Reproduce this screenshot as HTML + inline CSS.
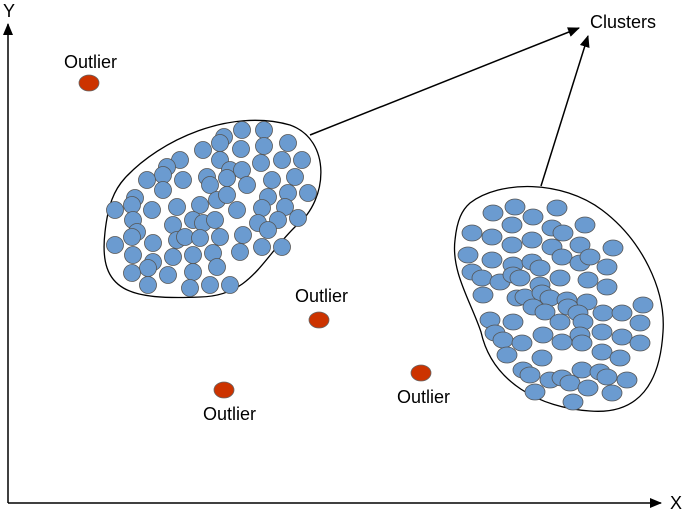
<!DOCTYPE html>
<html><head><meta charset="utf-8"><style>html,body{margin:0;padding:0;background:#fff;width:685px;height:511px;overflow:hidden}svg{display:block}text{font-family:"Liberation Sans",sans-serif;font-size:18px;fill:#000}</style></head><body>
<svg width="685" height="511" viewBox="0 0 685 511" xmlns="http://www.w3.org/2000/svg">
<defs><marker id="a" markerWidth="12" markerHeight="10" refX="11" refY="5" orient="auto" markerUnits="userSpaceOnUse"><path d="M0,0 L12,5 L0,10 Z" fill="#000"/></marker></defs>
<!-- axes -->
<line x1="8" y1="503" x2="8" y2="24" stroke="#000" stroke-width="1.5" marker-end="url(#a)"/>
<line x1="8" y1="503" x2="661" y2="503" stroke="#000" stroke-width="1.5" marker-end="url(#a)"/>
<text x="3" y="17">Y</text>
<text x="670" y="509">X</text>
<!-- blobs -->
<path d="M125,178 C160,140 230,108 290,125 C332,140 328,200 297,225 C262,258 252,296 200,297 C130,300 98,292 105,232 C108,205 114,190 125,178 Z" fill="none" stroke="#000" stroke-width="1.3"/>
<path d="M470,203 C500,180 562,180 602,210 C642,240 666,290 663,332 C660,382 640,415 590,411 C540,408 492,382 481,332 C471,302 451,272 455,240 C457,220 462,210 470,203 Z" fill="none" stroke="#000" stroke-width="1.3"/>
<!-- arrows -->
<line x1="310" y1="135" x2="579" y2="28" stroke="#000" stroke-width="1.5" marker-end="url(#a)"/>
<line x1="541" y1="186" x2="588" y2="36" stroke="#000" stroke-width="1.5" marker-end="url(#a)"/>
<text x="590" y="28">Clusters</text>
<!-- left cluster -->
<g fill="#6b9bd0" stroke="#555" stroke-width="0.8">
<circle cx="242" cy="130" r="8.5"/><circle cx="264" cy="130" r="8.5"/><circle cx="224" cy="137" r="8.5"/><circle cx="220" cy="143" r="8.5"/><circle cx="203" cy="150" r="8.5"/><circle cx="241" cy="149" r="8.5"/><circle cx="264" cy="146" r="8.5"/><circle cx="288" cy="143" r="8.5"/><circle cx="180" cy="160" r="8.5"/><circle cx="220" cy="160" r="8.5"/><circle cx="261" cy="163" r="8.5"/><circle cx="282" cy="160" r="8.5"/><circle cx="302" cy="160" r="8.5"/><circle cx="167" cy="167" r="8.5"/><circle cx="163" cy="175" r="8.5"/><circle cx="147" cy="180" r="8.5"/><circle cx="183" cy="180" r="8.5"/><circle cx="207" cy="177" r="8.5"/><circle cx="230" cy="170" r="8.5"/><circle cx="242" cy="170" r="8.5"/><circle cx="272" cy="180" r="8.5"/><circle cx="295" cy="177" r="8.5"/><circle cx="210" cy="185" r="8.5"/><circle cx="227" cy="178" r="8.5"/><circle cx="247" cy="185" r="8.5"/><circle cx="163" cy="190" r="8.5"/><circle cx="135" cy="198" r="8.5"/><circle cx="132" cy="205" r="8.5"/><circle cx="115" cy="210" r="8.5"/><circle cx="152" cy="210" r="8.5"/><circle cx="177" cy="207" r="8.5"/><circle cx="200" cy="205" r="8.5"/><circle cx="217" cy="200" r="8.5"/><circle cx="227" cy="195" r="8.5"/><circle cx="237" cy="210" r="8.5"/><circle cx="268" cy="197" r="8.5"/><circle cx="288" cy="193" r="8.5"/><circle cx="308" cy="193" r="8.5"/><circle cx="262" cy="208" r="8.5"/><circle cx="285" cy="207" r="8.5"/><circle cx="133" cy="220" r="8.5"/><circle cx="173" cy="225" r="8.5"/><circle cx="193" cy="220" r="8.5"/><circle cx="203" cy="223" r="8.5"/><circle cx="215" cy="220" r="8.5"/><circle cx="258" cy="223" r="8.5"/><circle cx="278" cy="220" r="8.5"/><circle cx="298" cy="218" r="8.5"/><circle cx="137" cy="232" r="8.5"/><circle cx="132" cy="237" r="8.5"/><circle cx="177" cy="240" r="8.5"/><circle cx="185" cy="237" r="8.5"/><circle cx="200" cy="238" r="8.5"/><circle cx="220" cy="237" r="8.5"/><circle cx="243" cy="235" r="8.5"/><circle cx="268" cy="230" r="8.5"/><circle cx="115" cy="245" r="8.5"/><circle cx="153" cy="243" r="8.5"/><circle cx="133" cy="255" r="8.5"/><circle cx="173" cy="257" r="8.5"/><circle cx="193" cy="255" r="8.5"/><circle cx="213" cy="253" r="8.5"/><circle cx="240" cy="252" r="8.5"/><circle cx="262" cy="247" r="8.5"/><circle cx="282" cy="247" r="8.5"/><circle cx="153" cy="262" r="8.5"/><circle cx="148" cy="268" r="8.5"/><circle cx="168" cy="275" r="8.5"/><circle cx="193" cy="272" r="8.5"/><circle cx="217" cy="267" r="8.5"/><circle cx="132" cy="273" r="8.5"/><circle cx="148" cy="285" r="8.5"/><circle cx="190" cy="288" r="8.5"/><circle cx="210" cy="285" r="8.5"/><circle cx="230" cy="285" r="8.5"/>
</g>
<!-- right cluster -->
<g fill="#6b9bd0" stroke="#555" stroke-width="0.8">
<ellipse cx="515" cy="207" rx="10" ry="8"/><ellipse cx="557" cy="208" rx="10" ry="8"/><ellipse cx="493" cy="213" rx="10" ry="8"/><ellipse cx="533" cy="217" rx="10" ry="8"/><ellipse cx="512" cy="225" rx="10" ry="8"/><ellipse cx="552" cy="228" rx="10" ry="8"/><ellipse cx="563" cy="233" rx="10" ry="8"/><ellipse cx="585" cy="225" rx="10" ry="8"/><ellipse cx="472" cy="233" rx="10" ry="8"/><ellipse cx="492" cy="237" rx="10" ry="8"/><ellipse cx="512" cy="245" rx="10" ry="8"/><ellipse cx="532" cy="240" rx="10" ry="8"/><ellipse cx="552" cy="247" rx="10" ry="8"/><ellipse cx="580" cy="245" rx="10" ry="8"/><ellipse cx="613" cy="248" rx="10" ry="8"/><ellipse cx="468" cy="255" rx="10" ry="8"/><ellipse cx="492" cy="260" rx="10" ry="8"/><ellipse cx="513" cy="265" rx="10" ry="8"/><ellipse cx="532" cy="262" rx="10" ry="8"/><ellipse cx="540" cy="268" rx="10" ry="8"/><ellipse cx="562" cy="257" rx="10" ry="8"/><ellipse cx="580" cy="263" rx="10" ry="8"/><ellipse cx="590" cy="257" rx="10" ry="8"/><ellipse cx="607" cy="267" rx="10" ry="8"/><ellipse cx="472" cy="272" rx="10" ry="8"/><ellipse cx="482" cy="278" rx="10" ry="8"/><ellipse cx="500" cy="282" rx="10" ry="8"/><ellipse cx="513" cy="275" rx="10" ry="8"/><ellipse cx="520" cy="278" rx="10" ry="8"/><ellipse cx="540" cy="285" rx="10" ry="8"/><ellipse cx="560" cy="278" rx="10" ry="8"/><ellipse cx="588" cy="280" rx="10" ry="8"/><ellipse cx="607" cy="287" rx="10" ry="8"/><ellipse cx="483" cy="295" rx="10" ry="8"/><ellipse cx="517" cy="298" rx="10" ry="8"/><ellipse cx="525" cy="297" rx="10" ry="8"/><ellipse cx="542" cy="293" rx="10" ry="8"/><ellipse cx="550" cy="298" rx="10" ry="8"/><ellipse cx="567" cy="300" rx="10" ry="8"/><ellipse cx="587" cy="302" rx="10" ry="8"/><ellipse cx="643" cy="305" rx="10" ry="8"/><ellipse cx="533" cy="307" rx="10" ry="8"/><ellipse cx="545" cy="312" rx="10" ry="8"/><ellipse cx="568" cy="307" rx="10" ry="8"/><ellipse cx="578" cy="313" rx="10" ry="8"/><ellipse cx="603" cy="313" rx="10" ry="8"/><ellipse cx="622" cy="313" rx="10" ry="8"/><ellipse cx="490" cy="320" rx="10" ry="8"/><ellipse cx="513" cy="322" rx="10" ry="8"/><ellipse cx="560" cy="322" rx="10" ry="8"/><ellipse cx="583" cy="322" rx="10" ry="8"/><ellipse cx="640" cy="323" rx="10" ry="8"/><ellipse cx="495" cy="333" rx="10" ry="8"/><ellipse cx="503" cy="340" rx="10" ry="8"/><ellipse cx="522" cy="343" rx="10" ry="8"/><ellipse cx="543" cy="335" rx="10" ry="8"/><ellipse cx="562" cy="342" rx="10" ry="8"/><ellipse cx="580" cy="335" rx="10" ry="8"/><ellipse cx="582" cy="343" rx="10" ry="8"/><ellipse cx="602" cy="332" rx="10" ry="8"/><ellipse cx="622" cy="337" rx="10" ry="8"/><ellipse cx="640" cy="343" rx="10" ry="8"/><ellipse cx="507" cy="355" rx="10" ry="8"/><ellipse cx="542" cy="358" rx="10" ry="8"/><ellipse cx="602" cy="352" rx="10" ry="8"/><ellipse cx="620" cy="358" rx="10" ry="8"/><ellipse cx="523" cy="370" rx="10" ry="8"/><ellipse cx="530" cy="375" rx="10" ry="8"/><ellipse cx="550" cy="380" rx="10" ry="8"/><ellipse cx="562" cy="378" rx="10" ry="8"/><ellipse cx="570" cy="383" rx="10" ry="8"/><ellipse cx="582" cy="370" rx="10" ry="8"/><ellipse cx="600" cy="372" rx="10" ry="8"/><ellipse cx="607" cy="377" rx="10" ry="8"/><ellipse cx="627" cy="380" rx="10" ry="8"/><ellipse cx="535" cy="392" rx="10" ry="8"/><ellipse cx="588" cy="388" rx="10" ry="8"/><ellipse cx="612" cy="393" rx="10" ry="8"/><ellipse cx="573" cy="402" rx="10" ry="8"/>
</g>
<!-- outliers -->
<g fill="#cc3300" stroke="#666" stroke-width="0.8">
<ellipse cx="89" cy="83" rx="10" ry="8"/><ellipse cx="319" cy="320" rx="10" ry="8"/><ellipse cx="224" cy="390" rx="10" ry="8"/><ellipse cx="421" cy="373" rx="10" ry="8"/>
</g>
<text x="64" y="68">Outlier</text>
<text x="295" y="302">Outlier</text>
<text x="203" y="420">Outlier</text>
<text x="397" y="403">Outlier</text>
</svg>
</body></html>
